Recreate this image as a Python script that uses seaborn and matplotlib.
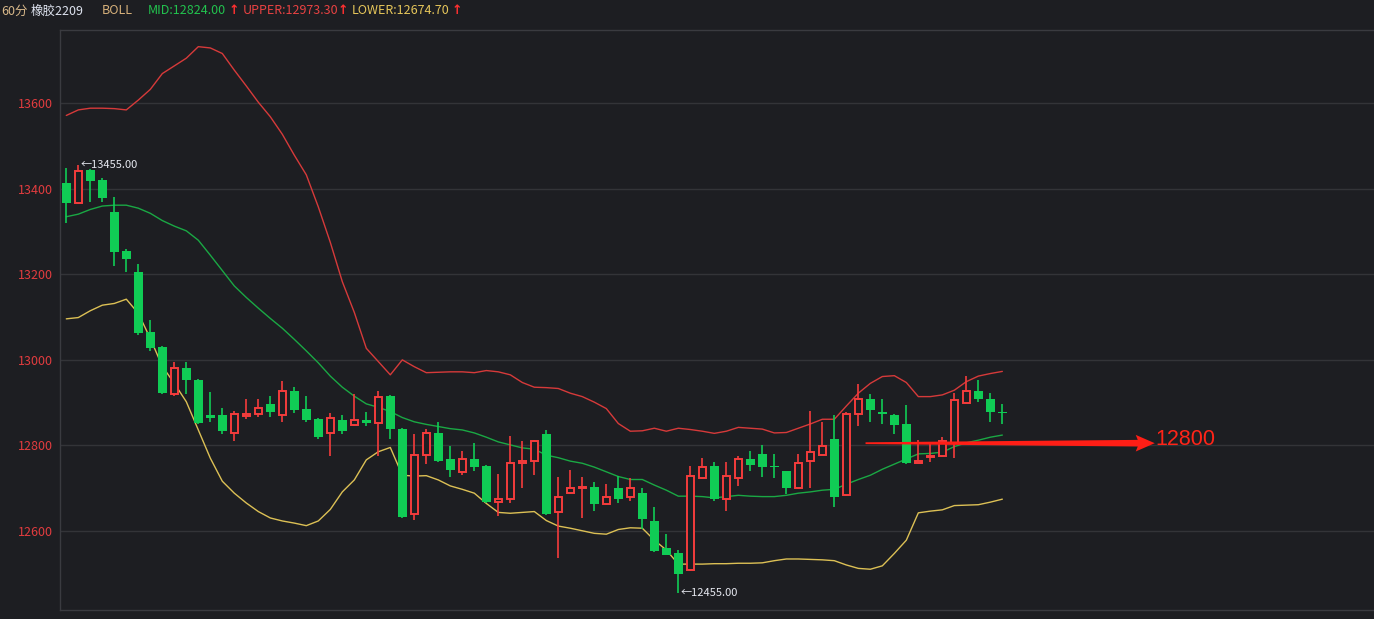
import matplotlib
matplotlib.use("Agg")
import matplotlib.pyplot as plt
import numpy as np
import pandas as pd
import seaborn as sns
from matplotlib.patches import Polygon

# 60-minute candles, rubber futures 2209
opens = [13415, 13367, 13444, 13421, 13346, 13254, 13205, 13065, 13030, 12919,
         12980, 12954, 12870, 12870, 12830, 12869, 12874, 12896, 12870, 12928,
         12884, 12861, 12830, 12860, 12848, 12860, 12853, 12915, 12839, 12640,
         12778, 12830, 12769, 12738, 12769, 12751, 12668, 12675, 12759, 12764,
         12826, 12645, 12689, 12699, 12703, 12663, 12699, 12680, 12689, 12624,
         12560, 12549, 12509, 12724, 12751, 12675, 12724, 12769, 12779, 12752,
         12739, 12699, 12764, 12778, 12814, 12683, 12874, 12909, 12879, 12870,
         12849, 12759, 12772, 12774, 12806, 12900, 12927, 12909, 12879]
highs = [13450, 13455, 13446, 13425, 13380, 13259, 13225, 13094, 13032, 12995,
         12994, 12956, 12924, 12888, 12880, 12909, 12909, 12915, 12950, 12936,
         12915, 12864, 12875, 12870, 12919, 12879, 12928, 12917, 12841, 12826,
         12839, 12854, 12799, 12786, 12805, 12755, 12734, 12821, 12809, 12813,
         12835, 12725, 12743, 12725, 12715, 12710, 12729, 12724, 12699, 12655,
         12593, 12554, 12751, 12770, 12760, 12760, 12774, 12786, 12800, 12780,
         12741, 12780, 12880, 12854, 12870, 12879, 12944, 12919, 12909, 12874,
         12895, 12813, 12804, 12820, 12923, 12963, 12954, 12923, 12896]
lows = [13321, 13365, 13370, 13370, 13220, 13206, 13058, 13021, 12919, 12915,
        12920, 12850, 12855, 12826, 12810, 12861, 12866, 12866, 12855, 12876,
        12855, 12815, 12774, 12826, 12846, 12846, 12775, 12815, 12630, 12626,
        12756, 12761, 12726, 12730, 12740, 12665, 12634, 12665, 12700, 12730,
        12637, 12536, 12687, 12631, 12646, 12660, 12665, 12670, 12605, 12550,
        12543, 12455, 12507, 12722, 12670, 12646, 12705, 12740, 12726, 12724,
        12687, 12698, 12700, 12777, 12656, 12681, 12846, 12855, 12850, 12827,
        12757, 12758, 12762, 12773, 12770, 12899, 12901, 12855, 12851]
closes = [13367, 13442, 13419, 13379, 13253, 13235, 13063, 13028, 12922, 12980,
          12953, 12852, 12864, 12834, 12874, 12874, 12888, 12878, 12928, 12883,
          12859, 12819, 12865, 12834, 12860, 12852, 12914, 12838, 12632, 12778,
          12830, 12763, 12743, 12769, 12749, 12667, 12675, 12759, 12764, 12809,
          12639, 12680, 12699, 12703, 12663, 12680, 12675, 12699, 12627, 12552,
          12544, 12499, 12729, 12750, 12674, 12729, 12769, 12755, 12749, 12749,
          12699, 12759, 12785, 12799, 12679, 12874, 12909, 12883, 12873, 12848,
          12759, 12764, 12774, 12809, 12905, 12927, 12909, 12878, 12875]

# BOLL bands
boll_upper = [13572, 13585, 13589, 13589, 13588, 13585, 13608, 13633, 13670, 13688,
              13706, 13733, 13730, 13717, 13678, 13641, 13603, 13569, 13528, 13479,
              13433, 13358, 13275, 13183, 13111, 13027, 12996, 12965, 13000, 12984,
              12970, 12971, 12972, 12972, 12970, 12975, 12972, 12965, 12947, 12936,
              12935, 12933, 12922, 12914, 12901, 12886, 12851, 12833, 12834, 12840,
              12833, 12840, 12837, 12833, 12828, 12833, 12842, 12840, 12838, 12829,
              12830, 12840, 12850, 12861, 12861, 12892, 12922, 12945, 12961, 12963,
              12947, 12914, 12914, 12918, 12929, 12949, 12962, 12968, 12973]
boll_mid = [13335, 13341, 13352, 13360, 13362, 13362, 13355, 13343, 13326, 13313,
            13302, 13280, 13245, 13209, 13173, 13146, 13121, 13097, 13074, 13048,
            13021, 12993, 12962, 12936, 12915, 12897, 12889, 12879, 12865, 12855,
            12849, 12844, 12839, 12836, 12829, 12819, 12808, 12801, 12794, 12791,
            12777, 12771, 12763, 12758, 12749, 12738, 12727, 12720, 12720, 12707,
            12695, 12681, 12681, 12680, 12677, 12680, 12683, 12681, 12680, 12680,
            12683, 12688, 12691, 12695, 12697, 12709, 12720, 12730, 12744, 12756,
            12768, 12780, 12781, 12784, 12797, 12806, 12812, 12819, 12824]
boll_lower = [13096, 13099, 13115, 13128, 13132, 13142, 13109, 13050, 12985, 12945,
              12902, 12836, 12770, 12716, 12688, 12665, 12645, 12630, 12623, 12618,
              12612, 12623, 12650, 12691, 12719, 12766, 12785, 12795, 12730, 12728,
              12729, 12719, 12705, 12697, 12688, 12664, 12643, 12641, 12643, 12645,
              12624, 12611, 12606, 12600, 12594, 12592, 12603, 12607, 12606, 12578,
              12555, 12522, 12522, 12522, 12523, 12523, 12524, 12524, 12525, 12530,
              12534, 12534, 12533, 12532, 12530, 12520, 12512, 12510, 12518, 12547,
              12578, 12642, 12646, 12649, 12659, 12660, 12661, 12667, 12674]

y_ticks = [12600, 12800, 13000, 13200, 13400, 13600]
target_label = "12800"
target_price = 12800
arrow_from, arrow_to, arrow_price = 66.6, 90.7, 12805

BG = '#1d1e22'
GRID = '#333438'
UP = '#f43c3c'
DOWN = '#10cc55'
FONT = ['Noto Sans CJK SC', 'DejaVu Sans']

sns.set_style("dark", rc={'axes.facecolor': BG, 'figure.facecolor': BG,
                          'axes.edgecolor': '#3a3b40', 'grid.color': GRID})
plt.rcParams['font.family'] = FONT

df = pd.DataFrame({'idx': np.arange(len(opens)), 'open': opens, 'high': highs,
                   'low': lows, 'close': closes, 'upper': boll_upper,
                   'mid': boll_mid, 'lower': boll_lower})
df['rise'] = df['close'] >= df['open']

W, H = 1374, 619
fig = plt.figure(figsize=(W / 100, H / 100), dpi=100)
ax = fig.add_axes([60 / W, 9 / H, (W - 60) / W, 580 / H])
xlim = (-0.525, 108.97)
ylim = (12414.6, 13772)
ax.set_xlim(*xlim)
ax.set_ylim(*ylim)

# grid and frame
ax.set_yticks(y_ticks)
ax.set_xticks([])
ax.yaxis.grid(True, color=GRID, lw=1.0, zorder=0)
ax.xaxis.grid(False)
ax.tick_params(axis='y', length=0, pad=5, labelsize=9, labelcolor='#e23c3f')
for side in ['left', 'top', 'bottom']:
    ax.spines[side].set_visible(True)
    ax.spines[side].set_color('#3a3b40')
    ax.spines[side].set_linewidth(1.0)
ax.spines['right'].set_visible(False)

# bands
sns.lineplot(data=df, x='idx', y='upper', ax=ax, color='#d63a3a', lw=1.0, zorder=2)
sns.lineplot(data=df, x='idx', y='mid', ax=ax, color='#1aa844', lw=1.0, zorder=2)
sns.lineplot(data=df, x='idx', y='lower', ax=ax, color='#dcc055', lw=1.0, zorder=2)
ax.set_xlabel('')
ax.set_ylabel('')

# candles
body_w = 0.72
min_body = 3
up = df[df['rise']]
dn = df[~df['rise']]
ax.vlines(dn['idx'], dn['low'], dn['high'], color=DOWN, lw=1.2, zorder=3)
ax.vlines(up['idx'], up['low'], up['high'], color=UP, lw=1.2, zorder=3)
ax.bar(dn['idx'], np.maximum(dn['open'] - dn['close'], min_body), bottom=dn['close'],
       width=body_w, color=DOWN, lw=0, zorder=4)
ax.bar(up['idx'], np.maximum(up['close'] - up['open'], min_body), bottom=up['open'],
       width=body_w - 0.1, facecolor=BG, edgecolor=UP, lw=1.4, zorder=4)

# extreme labels
i_hi = int(df['high'].idxmax())
i_lo = int(df['low'].idxmin())
ax.annotate('←%.2f' % df['high'].max(), xy=(i_hi, df['high'].max()), xytext=(1.5, 0),
            textcoords='offset points', ha='left', va='center', fontsize=8,
            color='#e6e8f0', zorder=6)
ax.annotate('←%.2f' % df['low'].min(), xy=(i_lo, df['low'].min()), xytext=(1.5, 0),
            textcoords='offset points', ha='left', va='center', fontsize=8,
            color='#e6e8f0', zorder=6)

# hand-drawn style target arrow
ux = (xlim[1] - xlim[0]) / (W - 60)
uy = (ylim[1] - ylim[0]) / 580
head_len = 17 * ux
x_neck = arrow_to - head_len
arrow_pts = [(arrow_from, arrow_price + 0.9 * uy),
             (x_neck, arrow_price + 3.3 * uy),
             (x_neck - 2 * ux, arrow_price + 8.3 * uy),
             (arrow_to, arrow_price),
             (x_neck - 2 * ux, arrow_price - 8.3 * uy),
             (x_neck, arrow_price - 3.3 * uy),
             (arrow_from, arrow_price - 0.9 * uy)]
ax.add_patch(Polygon(arrow_pts, closed=True, color='#ff1e16', lw=0, zorder=7))
ax.text(arrow_to + 0.05, target_price, target_label, ha='left', va='baseline',
        fontsize=15.5, color='#ff2418', family=['Liberation Sans', 'DejaVu Sans'],
        zorder=7)

# header line
yh = 1 - 11 / H
header = [(1, '60分', '#d8b88a'), (31, '橡胶2209', '#dde2ee'), (102, 'BOLL', '#d6b07a'),
          (148, 'MID:%.2f' % boll_mid[-1], '#22c24e'),
          (243, 'UPPER:%.2f' % 12973.30, '#e84242'),
          (352, 'LOWER:%.2f' % 12674.70, '#e6c65a')]
for px, txt, col in header:
    fig.text(px / W, yh, txt, ha='left', va='center', fontsize=9, color=col)
for px in [233.5, 342.5, 456.5]:
    fig.text(px / W, yh, '↑', ha='center', va='center', fontsize=9, color='#ff3030',
             family=['DejaVu Sans'], fontweight='bold')

fig.savefig('out.png', dpi=100, facecolor=BG)
